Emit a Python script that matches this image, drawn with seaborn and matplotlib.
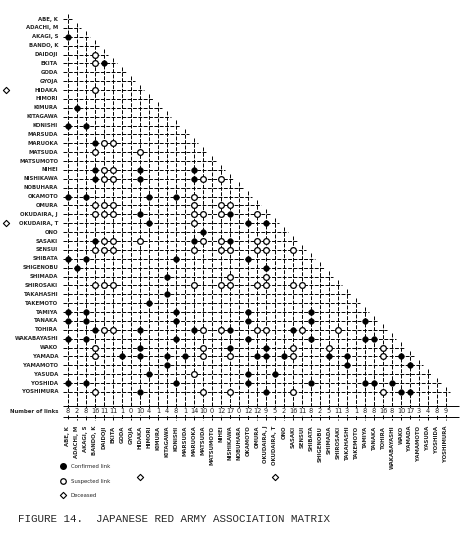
import numpy as np
import pandas as pd
import matplotlib
matplotlib.use('Agg')
import matplotlib.pyplot as plt
import seaborn as sns

# ---------------- data ----------------
names = ['ABE, K', 'ADACHI, M', 'AKAGI, S', 'BANDO, K', 'DAIDOJI', 'EKITA', 'GODA', 'GYOJA',
         'HIDAKA', 'HIMORI', 'KIMURA', 'KITAGAWA', 'KONISHI', 'MARSUDA', 'MARUOKA', 'MATSUDA',
         'MATSUMOTO', 'NIHEI', 'NISHIKAWA', 'NOBUHARA', 'OKAMOTO', 'OMURA', 'OKUDAIRA, J',
         'OKUDAIRA, T', 'ONO', 'SASAKI', 'SENSUI', 'SHIBATA', 'SHIGENOBU', 'SHIMADA', 'SHIROSAKI',
         'TAKAHASHI', 'TAKEMOTO', 'TAMIYA', 'TANAKA', 'TOHIRA', 'WAKABAYASHI', 'WAKO', 'YAMADA',
         'YAMAMOTO', 'YASUDA', 'YOSHIDA', 'YOSHIMURA']
deceased = ['HIDAKA', 'OKUDAIRA, T']
n_links = [8, 2, 8, 16, 11, 11, 1, 0, 10, 4, 1, 4, 8, 1, 14, 10, 0, 12, 17, 0, 12, 12, 9, 5, 2,
           16, 11, 8, 2, 5, 11, 3, 1, 8, 8, 16, 8, 10, 17, 3, 4, 8, 9]

# (row person, column person) index pairs
confirmed = [(2, 0), (5, 4), (10, 1), (12, 0), (12, 2), (14, 3), (17, 3), (17, 8), (17, 14),
             (18, 3), (18, 8), (18, 14), (20, 0), (20, 2), (20, 9), (20, 12), (22, 8), (22, 18),
             (23, 9), (23, 20), (23, 22), (24, 15), (25, 3), (25, 14), (25, 18), (27, 0), (27, 2),
             (27, 12), (27, 20), (28, 1), (28, 22), (29, 11), (31, 11), (32, 9), (33, 0), (33, 2),
             (33, 12), (33, 20), (33, 27), (34, 0), (34, 2), (34, 12), (34, 20), (34, 27), (34, 33),
             (35, 3), (35, 8), (35, 14), (35, 18), (35, 25), (36, 0), (36, 2), (36, 12), (36, 20),
             (36, 27), (36, 33), (36, 34), (37, 8), (37, 18), (37, 22), (38, 6), (38, 8), (38, 11),
             (38, 13), (38, 21), (38, 22), (38, 24), (38, 29), (38, 31), (38, 37), (39, 11),
             (39, 31), (39, 38), (40, 9), (40, 20), (40, 23), (41, 0), (41, 2), (41, 12), (41, 20),
             (41, 27), (41, 33), (41, 34), (41, 36), (42, 8), (42, 22), (42, 37), (42, 38)]
suspected = [(4, 3), (5, 3), (8, 3), (14, 4), (14, 5), (15, 3), (15, 8), (17, 4), (17, 5), (18, 4),
             (18, 5), (18, 15), (18, 17), (20, 14), (21, 3), (21, 4), (21, 5), (21, 14), (21, 17),
             (21, 18), (22, 3), (22, 4), (22, 5), (22, 14), (22, 15), (22, 17), (22, 21), (23, 14),
             (25, 4), (25, 5), (25, 8), (25, 15), (25, 17), (25, 21), (25, 22), (26, 3), (26, 4),
             (26, 5), (26, 14), (26, 17), (26, 18), (26, 21), (26, 22), (26, 25), (29, 18), (29, 22),
             (30, 3), (30, 4), (30, 5), (30, 14), (30, 17), (30, 18), (30, 21), (30, 22), (30, 25),
             (30, 26), (35, 4), (35, 5), (35, 15), (35, 17), (35, 21), (35, 22), (35, 26), (35, 30),
             (37, 3), (37, 15), (37, 25), (37, 29), (37, 35), (38, 3), (38, 15), (38, 18), (38, 25),
             (38, 35), (40, 14), (42, 3), (42, 15), (42, 18), (42, 25), (42, 35)]

# ---------------- plot ----------------
sns.set_style('white')
plt.rcParams['font.family'] = ['DejaVu Sans']
fig = plt.figure(figsize=(4.74, 5.44), dpi=100)
ax = fig.add_axes([0, 0, 1, 1])
n = len(names)
ax.set_xlim(-68 / 9, (474 - 68) / 9)
ax.set_ylim((544 - 19) / 8.88, -19 / 8.88)
ax.axis('off')

lk = dict(color='black', lw=0.7, linestyles=(0, (4, 1.5)))
count_row = 44.2
# grid lines (one per person, forming the lower triangle)
for c in range(n):
    ax.vlines(c, c - 0.6, count_row + 1.0, **lk)
for r in range(n):
    ax.hlines(r, -0.6, r + 0.5, **lk)
ax.hlines([count_row - 0.6, count_row + 0.6], -0.6, n + 0.5, color='black', lw=0.7)

for r, name in enumerate(names):
    ax.text(-1.1, r, name, ha='right', va='center', fontsize=3.9, fontweight='bold')
    ax.text(r, count_row + 1.6, name, ha='center', va='top', rotation=90, fontsize=3.9, fontweight='bold')
    ax.text(r, count_row, str(n_links[r]), ha='center', va='center', fontsize=4.8,
            bbox=dict(fc='white', ec='none', pad=0.3))
ax.text(-1.1, count_row, 'Number of links', ha='right', va='center', fontsize=3.9, fontweight='bold')

dec_rows = [names.index(d) for d in deceased]
ax.scatter([-6.9] * len(dec_rows), dec_rows, marker='D', s=10, facecolor='white', edgecolor='black', lw=0.8, zorder=4)
ax.scatter(dec_rows, [count_row + 7.4] * len(dec_rows), marker='D', s=10, facecolor='white',
           edgecolor='black', lw=0.8, zorder=4)

df_c = pd.DataFrame(confirmed, columns=['row', 'col'])
df_s = pd.DataFrame(suspected, columns=['row', 'col'])
sns.scatterplot(data=df_c, x='col', y='row', ax=ax, s=17, color='black', edgecolor='black', zorder=5)
sns.scatterplot(data=df_s, x='col', y='row', ax=ax, s=17, facecolor='white', edgecolor='black',
                linewidth=0.9, zorder=5)

# legend
leg_y = [(466 - 19) / 8.88, (481 - 19) / 8.88, (495 - 19) / 8.88]
ax.scatter([-0.5], [leg_y[0]], s=16, color='black')
ax.scatter([-0.5], [leg_y[1]], s=16, facecolor='white', edgecolor='black', lw=0.9)
ax.scatter([-0.5], [leg_y[2]], marker='D', s=10, facecolor='white', edgecolor='black', lw=0.8)
for y, t in zip(leg_y, ['Confirmed link', 'Suspected link', 'Deceased']):
    ax.text(0.3, y, t, va='center', fontsize=3.9)

fig.text(18 / 474, 1 - 519 / 544, 'FIGURE 14.  JAPANESE RED ARMY ASSOCIATION MATRIX',
         family='Liberation Mono', fontsize=7.8, va='center')

fig.savefig('out.png', dpi=100, facecolor='white')
